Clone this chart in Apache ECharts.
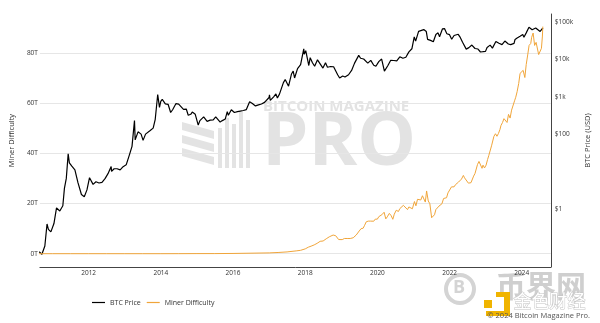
<!DOCTYPE html>
<html>
<head>
<meta charset="utf-8">
<script src="https://cdn.jsdelivr.net/npm/echarts@6/dist/echarts.min.js"></script>
<style>html,body{margin:0;padding:0;background:#fff}#c{width:600px;height:323px}</style>
</head>
<body>
<div id="c"></div>
<script>
// ---- BTC price (USD), log scale, right axis ----
const btcDates = ['2010-08-18','2010-09-15','2010-10-15','2010-11-06','2010-11-20','2010-12-15','2011-01-15','2011-02-10','2011-03-15','2011-04-15','2011-05-01','2011-05-20','2011-06-08','2011-06-20','2011-07-15','2011-08-15','2011-09-15','2011-10-20','2011-11-18','2011-12-15',
'2012-01-10','2012-02-15','2012-03-15','2012-04-15','2012-05-15','2012-06-15','2012-07-15','2012-08-16','2012-08-20','2012-09-15','2012-10-15','2012-11-15','2012-12-15',
'2013-01-15','2013-02-15','2013-03-15','2013-04-09','2013-04-16','2013-05-15','2013-06-15','2013-07-05','2013-07-30','2013-08-15','2013-09-15','2013-10-15','2013-11-05','2013-11-30','2013-12-18','2013-12-31',
'2014-01-15','2014-02-15','2014-03-15','2014-04-10','2014-04-30','2014-05-15','2014-06-03','2014-06-30','2014-07-15','2014-08-18','2014-09-15','2014-10-05','2014-10-30','2014-11-15','2014-12-15',
'2015-01-14','2015-01-31','2015-02-15','2015-03-10','2015-04-14','2015-05-15','2015-06-15','2015-07-10','2015-08-24','2015-09-15','2015-10-15','2015-11-04','2015-11-15','2015-12-15',
'2016-01-15','2016-02-15','2016-03-15','2016-04-15','2016-05-15','2016-06-17','2016-07-15','2016-08-15','2016-09-15','2016-10-15','2016-11-15','2016-12-31',
'2017-01-04','2017-01-12','2017-02-15','2017-03-10','2017-03-25','2017-04-15','2017-05-25','2017-06-12','2017-07-16','2017-08-15','2017-09-01','2017-09-15','2017-10-15','2017-11-15','2017-12-17','2017-12-22',
'2018-01-06','2018-02-06','2018-02-20','2018-03-15','2018-04-06','2018-05-05','2018-06-29','2018-07-25','2018-08-14','2018-09-15','2018-10-15','2018-11-25','2018-12-15',
'2019-01-15','2019-02-07','2019-03-15','2019-04-15','2019-05-15','2019-06-26','2019-07-15','2019-08-15','2019-09-26','2019-10-26','2019-11-25','2019-12-17',
'2020-01-15','2020-02-13','2020-03-12','2020-04-15','2020-05-15','2020-06-15','2020-07-15','2020-08-15','2020-09-15','2020-10-15','2020-11-15','2020-12-15',
'2021-01-08','2021-01-22','2021-02-21','2021-03-13','2021-04-14','2021-05-10','2021-05-23','2021-06-22','2021-07-20','2021-08-15','2021-09-06','2021-09-21','2021-10-20','2021-11-10','2021-12-04','2021-12-31',
'2022-01-22','2022-02-15','2022-03-29','2022-04-15','2022-05-12','2022-06-18','2022-07-15','2022-08-14','2022-09-15','2022-10-15','2022-11-09','2022-12-30',
'2023-01-15','2023-02-15','2023-03-10','2023-04-14','2023-05-15','2023-06-15','2023-07-14','2023-08-18','2023-09-11','2023-10-15','2023-10-25','2023-11-15','2023-12-15',
'2024-01-11','2024-01-23','2024-02-15','2024-03-14','2024-04-15','2024-05-01','2024-05-21','2024-06-07','2024-07-05','2024-07-29','2024-08-01'];
const btcPrice = [0.07,0.06,0.10,0.39,0.28,0.24,0.40,1.05,0.87,1.2,3.5,6.5,29.6,17,13.8,11,5,2.4,2.1,3.2,
6.8,4.5,5.3,4.9,5.1,6.4,8.7,13.5,10,11.8,11.8,11,13.4,
15,27,47,230,70,115,100,68,100,100,125,145,250,1150,520,750,
850,650,630,380,450,450,660,640,620,460,470,320,340,390,340,
175,230,235,290,220,237,240,290,210,230,255,400,320,450,
380,400,415,430,455,740,660,570,610,640,710,960,
1130,800,1000,1200,930,1180,2400,2900,1930,4100,4900,3200,5700,7300,19300,13800,
17200,6900,11200,8200,6600,9800,5900,8200,6200,6500,6400,3900,3200,
3600,3400,3900,5100,8000,12900,10800,10300,8000,9500,7000,6600,
8800,10300,4900,6800,9500,9400,9200,11800,10800,11500,16000,19400,
40500,31000,57000,61000,63500,56000,34700,32500,29800,47000,51800,40600,66000,67500,49000,46300,
35000,44000,47400,40500,29000,19000,20800,24400,19700,19100,15900,16500,
20900,24300,20200,30500,27200,25100,31200,26100,25100,27000,34500,37800,42000,
46500,39500,51800,73000,63000,58000,70000,69500,56500,68200,64600];

// ---- Miner difficulty (trillions), linear, left axis ----
const diffDates = ['2010-08-18','2011-01-01','2011-07-01','2012-01-01','2012-07-01','2013-01-01','2013-07-01','2014-01-01','2014-07-01','2015-01-01','2015-07-01','2016-01-01','2016-07-01',
'2017-01-01','2017-04-01','2017-07-01','2017-10-01','2017-11-15','2018-01-01','2018-02-01','2018-03-01','2018-04-01','2018-05-01','2018-06-01','2018-07-01','2018-08-01','2018-09-01','2018-10-10','2018-11-05','2018-11-20','2018-12-05','2018-12-20',
'2019-01-10','2019-02-01','2019-03-01','2019-04-01','2019-05-01','2019-06-01','2019-07-01','2019-07-20','2019-08-10','2019-08-25','2019-09-10','2019-10-01','2019-10-25','2019-11-10','2019-11-25','2019-12-10',
'2020-01-01','2020-01-15','2020-02-01','2020-02-15','2020-03-09','2020-03-26','2020-04-10','2020-05-01','2020-05-20','2020-06-05','2020-06-20','2020-07-10','2020-08-01','2020-08-15','2020-09-01','2020-09-20','2020-10-10','2020-11-01','2020-11-15','2020-12-01','2020-12-20',
'2021-01-10','2021-01-25','2021-02-10','2021-03-01','2021-03-15','2021-04-01','2021-04-15','2021-04-30','2021-05-13','2021-05-30','2021-06-15','2021-07-03','2021-07-20','2021-08-01','2021-08-15','2021-09-01','2021-09-15','2021-10-01','2021-10-15','2021-11-01','2021-11-15','2021-12-01','2021-12-15',
'2022-01-01','2022-01-20','2022-02-15','2022-03-01','2022-03-15','2022-04-01','2022-04-15','2022-05-01','2022-05-20','2022-06-01','2022-06-20','2022-07-10','2022-07-25','2022-08-05','2022-08-20','2022-09-01','2022-09-15','2022-09-30','2022-10-10','2022-10-25','2022-11-10','2022-11-25','2022-12-05','2022-12-20',
'2023-01-05','2023-01-20','2023-02-01','2023-02-15','2023-03-01','2023-03-15','2023-03-25','2023-04-10','2023-04-25','2023-05-10','2023-05-25','2023-06-05','2023-06-20','2023-07-05','2023-07-20','2023-08-05','2023-08-20','2023-09-05','2023-09-20','2023-10-05','2023-10-20','2023-11-01','2023-11-15','2023-12-01','2023-12-15',
'2024-01-01','2024-01-15','2024-02-01','2024-02-15','2024-03-01','2024-03-15','2024-04-01','2024-04-10','2024-04-25','2024-05-10','2024-05-25','2024-06-05','2024-06-20','2024-07-05','2024-07-18','2024-07-28','2024-08-01'];
const diffT = [0.0000005,0.0000015,0.0000018,0.0000015,0.000002,0.0000034,0.000026,0.0014,0.017,0.040,0.048,0.10,0.21,
0.32,0.48,0.71,1.12,1.35,1.93,2.60,3.01,3.51,4.14,4.94,5.08,5.95,6.73,7.45,7.18,6.65,5.65,5.11,
5.62,6.07,6.07,6.07,6.35,7.46,9.07,9.99,10.18,11.35,12.73,13.01,13.01,12.97,12.97,13.79,
13.8,14.78,14.78,15.55,16.55,13.91,14.72,16.1,15.14,13.73,15.78,17.35,16.85,18.0,17.35,19.31,19.88,17.6,18.67,18.67,17.93,
20.82,19.13,21.72,21.72,21.45,23.14,23.14,20.61,25.05,21.05,19.93,14.36,13.67,15.56,17.62,18.4,19.0,19.0,19.93,22.05,22.33,22.34,24.27,
24.27,26.69,26.69,27.55,27.97,28.59,28.23,29.79,31.25,30.28,29.89,28.17,27.69,28.35,28.35,30.98,32.05,31.36,35.61,36.84,36.76,34.09,35.36,34.24,
35.36,37.59,39.16,39.35,43.05,43.55,46.84,47.89,46.88,48.0,49.55,51.23,52.35,53.91,53.91,52.39,55.62,54.15,57.32,57.12,61.03,62.46,64.68,67.96,72.01,
72.01,73.2,70.34,75.5,79.35,83.13,83.95,86.39,88.1,83.15,84.38,84.38,79.5,79.5,82.0,86.9,90.67];

// ---- axis tick labels ----
const leftTicks = [0, 20, 40, 60, 80];
const rightTickLabels = {0: '$1', 2: '$100', 3: '$1k', 4: '$10k', 5: '$100k'};
const yearTicks = [2012, 2014, 2016, 2018, 2020, 2022, 2024];

const FONT = 'Open Sans';
const ts = d => Date.parse(d + 'T00:00:00Z');
const chart = echarts.init(document.getElementById('c'), null, {renderer: 'canvas'});
const btcData = btcDates.map((d, i) => [ts(d), btcPrice[i]]);
const diffData = diffDates.map((d, i) => [ts(d), diffT[i]]);
const yearVals = yearTicks.map(y => Date.UTC(y, 0, 1));

const wm = '#e3e3e3';
const ORANGE = '#f0a53a';
chart.setOption({
  animation: false,
  backgroundColor: '#fff',
  grid: {left: 33, right: 40, top: 14, bottom: 56, containLabel: false},
  legend: {
    left: 87, top: 294, icon: 'rect', itemWidth: 13, itemHeight: 1.2, itemGap: 6,
    textStyle: {fontFamily: FONT, fontSize: 7, color: '#333'},
    data: ['BTC Price', 'Miner Difficulty']
  },
  xAxis: {
    type: 'value',
    min: Date.UTC(2010, 7, 26),
    max: Date.UTC(2024, 9, 21),
    axisLine: {show: true, onZero: false, lineStyle: {color: '#444', width: 1}},
    axisTick: {show: false, customValues: yearVals},
    splitLine: {show: false},
    axisLabel: {
      customValues: yearVals,
      formatter: v => String(new Date(v).getUTCFullYear()),
      fontFamily: FONT, fontSize: 6.5, color: '#333', margin: 3
    }
  },
  yAxis: [
    {
      type: 'value', position: 'left',
      min: -5.31, max: 95.7,
      name: 'Miner Difficulty', nameLocation: 'middle', nameGap: 21, nameRotate: 90,
      nameTextStyle: {fontFamily: FONT, fontSize: 7.5, color: '#333'},
      axisLine: {show: false},
      axisTick: {show: false, customValues: leftTicks},
      axisLabel: {customValues: leftTicks, formatter: v => v + 'T', fontFamily: FONT, fontSize: 6.5, color: '#333', margin: 2},
      splitLine: {show: true, lineStyle: {color: '#e6e6e6', width: 1}}
    },
    {
      type: 'log', position: 'right', logBase: 10,
      min: 0.0274, max: 165900,
      name: 'BTC Price (USD)', nameLocation: 'middle', nameGap: 22, nameRotate: 90,
      nameTextStyle: {fontFamily: FONT, fontSize: 7.5, color: '#333'},
      axisLine: {show: true, lineStyle: {color: '#444', width: 1}},
      axisTick: {show: false},
      splitLine: {show: false},
      axisLabel: {
        fontFamily: FONT, fontSize: 6.5, color: '#333', margin: 4,
        formatter: v => {
          const lg = Math.log10(v);
          const r = Math.round(lg);
          if (Math.abs(lg - r) > 0.01) return '';
          return rightTickLabels[r] || '';
        }
      }
    }
  ],
  graphic: [
    {type: 'polygon', z: 0, silent: true, shape: {points: [[182,122],[214,131],[214,139],[182,130]]}, style: {fill: wm}},
    {type: 'polygon', z: 0, silent: true, shape: {points: [[182,135],[214,144],[214,152],[182,143]]}, style: {fill: wm}},
    {type: 'polygon', z: 0, silent: true, shape: {points: [[182,148],[214,157],[214,165],[182,156]]}, style: {fill: wm}},
    {type: 'rect', z: 0, silent: true, shape: {x: 218, y: 128, width: 4, height: 40}, style: {fill: wm}},
    {type: 'rect', z: 0, silent: true, shape: {x: 225, y: 118, width: 4, height: 50}, style: {fill: wm}},
    {type: 'rect', z: 0, silent: true, shape: {x: 232, y: 124, width: 4, height: 44}, style: {fill: wm}},
    {type: 'rect', z: 0, silent: true, shape: {x: 239, y: 112, width: 4, height: 56}, style: {fill: wm}},
    {type: 'rect', z: 0, silent: true, shape: {x: 246, y: 120, width: 4, height: 48}, style: {fill: wm}},
    {type: 'text', z: 0, silent: true, left: 263, top: 99, style: {text: 'BITCOIN MAGAZINE', font: 'bold 15px "Open Sans"', fill: wm}},
    {type: 'text', z: 0, silent: true, left: 262, top: 107, style: {text: 'PRO', font: 'bold 74px "Open Sans"', fill: wm}},
    {type: 'circle', z: 0, silent: true, shape: {cx: 460, cy: 289, r: 14}, style: {fill: 'none', stroke: '#d4d4d4', lineWidth: 4}},
    {type: 'text', z: 0, silent: true, left: 453, top: 279, style: {text: 'B', font: 'bold 18px "Open Sans"', fill: '#d4d4d4'}},
    {type: 'text', z: 0, silent: true, left: 496, top: 271, style: {text: '币界网', font: 'bold 30px "Noto Sans CJK SC"', fill: '#cfcfcf'}},
    {type: 'rect', z: 0, silent: true, shape: {x: 484, y: 300, width: 8, height: 8}, style: {fill: '#f0b400'}},
    {type: 'polygon', z: 0, silent: true, shape: {points: [[496,292],[510,292],[510,316],[486,316],[486,311],[504,311],[504,297],[496,297]]}, style: {fill: '#f0b400'}},
    {type: 'text', z: 0, silent: true, left: 513, top: 292, style: {text: '金色财经', font: '18px "Noto Sans CJK SC"', fill: '#fff', stroke: '#c4c4c4', lineWidth: 1}},
    {type: 'text', z: 5, silent: true, right: 10, top: 312, style: {text: '© 2024 Bitcoin Magazine Pro.', font: '7.5px "Open Sans"', fill: '#555'}}
  ],
  series: [
    {
      name: 'BTC Price', type: 'line', yAxisIndex: 1, data: btcData,
      symbol: 'none', showSymbol: false, color: '#000',
      lineStyle: {color: '#000', width: 1.2}, z: 3
    },
    {
      name: 'Miner Difficulty', type: 'line', yAxisIndex: 0, data: diffData,
      symbol: 'none', showSymbol: false, color: ORANGE,
      lineStyle: {color: ORANGE, width: 1}, z: 4
    }
  ]
});
</script>
</body>
</html>
